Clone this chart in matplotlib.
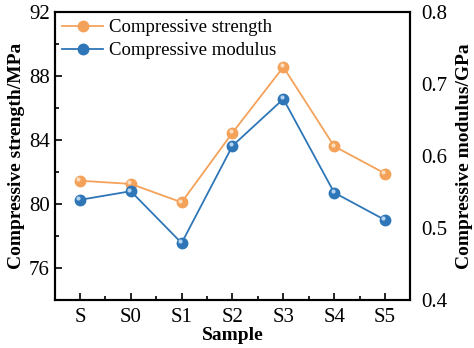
import matplotlib.pyplot as plt
from matplotlib.ticker import MultipleLocator
from matplotlib.transforms import offset_copy

samples = ["S", "S0", "S1", "S2", "S3", "S4", "S5"]
strength = [81.45, 81.25, 80.1, 84.45, 88.55, 83.6, 81.9]
modulus = [0.539, 0.551, 0.479, 0.614, 0.679, 0.549, 0.511]

plt.rcParams["font.family"] = ["Liberation Serif", "DejaVu Serif"]

orange = "#F4A25A"
blue = "#2E76B7"

fig, ax = plt.subplots(figsize=(4.74, 3.48), dpi=100)
fig.subplots_adjust(left=0.115, right=0.866, top=0.966, bottom=0.138)
ax2 = ax.twinx()

x = list(range(len(samples)))
l1, = ax.plot(x, strength, color=orange, lw=1.3, marker="o", ms=7.5,
              mfc=orange, mec=orange, label="Compressive strength")
l2, = ax2.plot(x, modulus, color=blue, lw=1.3, marker="o", ms=7.5,
               mfc=blue, mec=blue, label="Compressive modulus")
# small highlight on the balls, shifted up-left
hl1 = offset_copy(ax.transData, fig=fig, x=-1.2, y=1.2, units="points")
hl2 = offset_copy(ax2.transData, fig=fig, x=-1.2, y=1.2, units="points")
ax.plot(x, strength, ls="none", marker="o", ms=3, mfc="#FCDCBE", mec="none", transform=hl1)
ax2.plot(x, modulus, ls="none", marker="o", ms=3, mfc="#B4D3EE", mec="none", transform=hl2)

ax.set_xlim(-0.5, 6.5)
ax.set_ylim(74, 92)
ax2.set_ylim(0.4, 0.8)
ax.set_xticks(x)
ax.set_xticklabels(samples)
ax.xaxis.set_minor_locator(MultipleLocator(0.5))
ax.set_yticks([76, 80, 84, 88, 92])
ax.yaxis.set_minor_locator(MultipleLocator(2))
ax2.set_yticks([0.4, 0.5, 0.6, 0.7, 0.8])

ax.tick_params(which="both", direction="in", labelsize=15, width=1.2)
ax.tick_params(which="major", length=5)
ax.tick_params(which="minor", length=3)
ax.tick_params(axis="x", which="major", pad=6)
ax.tick_params(axis="y", which="both", right=False)
ax2.tick_params(which="both", direction="in", labelsize=15, length=0, pad=8)

for a in (ax, ax2):
    for s in a.spines.values():
        s.set_linewidth(1.5)

ax.set_xlabel("Sample", fontsize=14, fontweight="bold", labelpad=0)
ax.set_ylabel("Compressive strength/MPa", fontsize=14, fontweight="bold", labelpad=3)
ax2.set_ylabel("Compressive modulus/GPa", fontsize=14, fontweight="bold", labelpad=6)

ax.legend([l1, l2], ["Compressive strength", "Compressive modulus"], loc="upper left",
          frameon=False, fontsize=13.5, handlelength=2.2, borderaxespad=0.1,
          labelspacing=0.3, handletextpad=0.3, borderpad=0.3)

fig.savefig("out.png", dpi=100)
